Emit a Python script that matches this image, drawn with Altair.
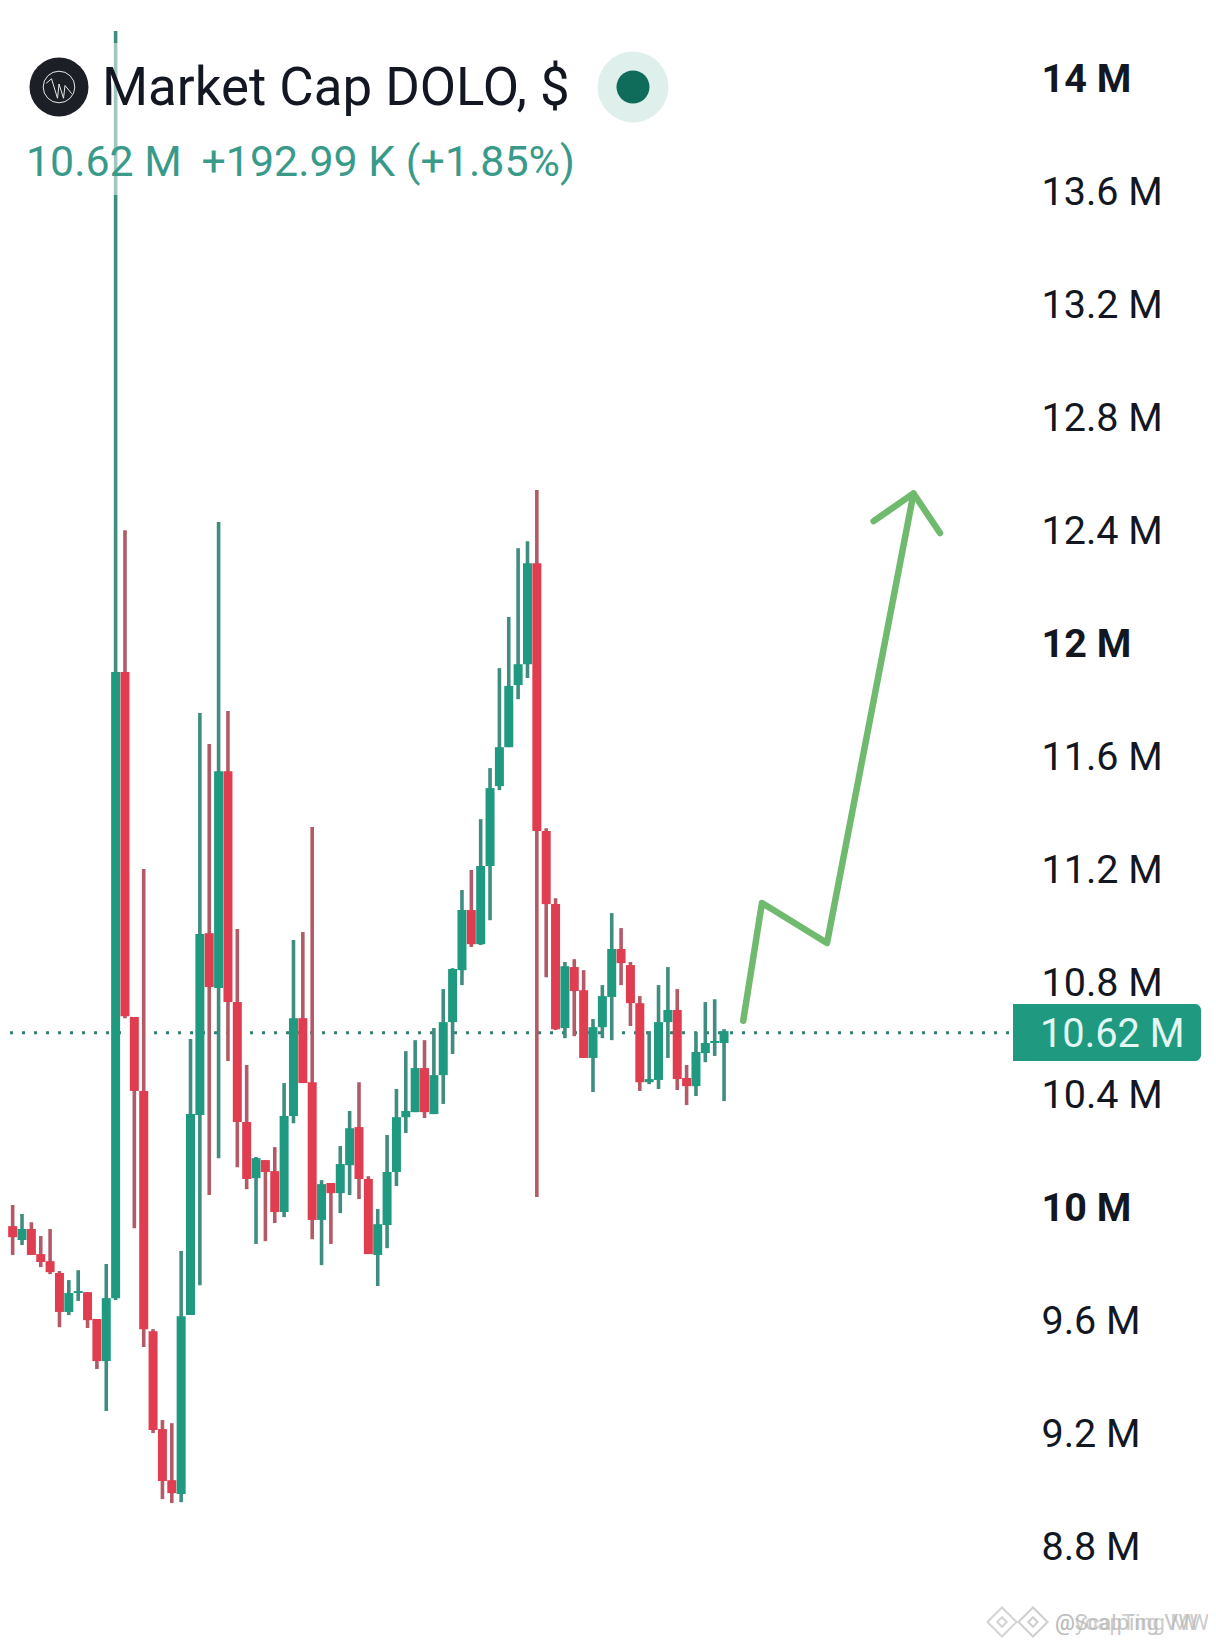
import altair as alt
import pandas as pd

# Candles, in millions: body top/bottom and wick top/bottom
direction = [
 "d","d","u","d","d","d","d","u","u","d","d","u",
 "u","d","d","d","d","d","d","u","u","u","d","u",
 "d","d","d","u","d","d","u","u","d","d","u","d",
 "u","u","d","d","u","u","u","u","u","d","u","u",
 "u","u","d","u","u","u","u","u","u","d","d","d",
 "u","d","d","u","u","u","d","d","d","u","u","u",
 "d","d","u","u","u","u",
]
body_top = [
 10.038,9.935,9.925,9.925,9.836,9.811,9.769,9.698,9.705,9.701,9.606,9.680,
 11.898,11.898,10.676,10.414,9.563,9.216,9.035,9.616,10.332,10.970,10.973,11.547,
 11.547,10.729,10.304,10.176,10.169,10.130,10.325,10.672,10.672,10.445,10.084,10.088,
 10.155,10.282,10.286,10.102,9.942,10.127,10.321,10.343,10.495,10.495,10.470,10.658,
 10.846,11.055,11.055,11.211,11.487,11.632,11.849,11.926,12.284,12.284,11.335,11.076,
 10.856,10.853,10.771,10.640,10.750,10.917,10.917,10.860,10.725,10.456,10.658,10.701,
 10.701,10.460,10.552,10.584,10.591,10.626,
]
body_bottom = [
 9.932,9.896,9.886,9.833,9.808,9.772,9.631,9.631,9.698,9.602,9.457,9.457,
 9.680,10.679,10.414,9.570,9.213,9.032,8.989,8.986,9.620,10.329,10.782,10.779,
 10.729,10.304,10.102,10.105,10.127,9.985,9.985,10.325,10.442,9.957,9.957,10.052,
 10.052,10.151,10.102,9.836,9.833,9.939,10.127,10.321,10.339,10.339,10.332,10.470,
 10.658,10.842,10.934,10.934,11.211,11.494,11.632,11.852,11.926,11.335,11.076,10.633,
 10.637,10.768,10.531,10.531,10.640,10.747,10.867,10.725,10.445,10.445,10.453,10.658,
 10.456,10.431,10.431,10.548,10.584,10.584,
]
wick_top = [
 10.084,10.010,9.978,9.949,9.900,9.925,9.776,9.744,9.779,9.701,9.606,9.801,
 14.169,12.401,10.676,11.200,9.570,9.248,9.237,9.847,10.598,11.753,11.643,12.430,
 11.760,10.988,10.506,10.180,10.169,10.215,10.442,10.949,10.977,11.349,10.098,10.088,
 10.219,10.343,10.445,10.112,9.996,10.258,10.421,10.555,10.594,10.594,10.637,10.775,
 10.849,11.126,11.197,11.377,11.558,11.912,12.093,12.337,12.362,12.543,11.345,11.097,
 10.871,10.881,10.842,10.669,10.789,11.044,10.991,10.871,10.750,10.626,10.789,10.853,
 10.775,10.506,10.623,10.729,10.739,10.633,
]
wick_bottom = [
 9.903,9.833,9.868,9.833,9.790,9.765,9.577,9.620,9.670,9.574,9.429,9.280,
 9.673,10.672,9.928,9.507,9.202,8.968,8.954,8.957,9.620,9.726,10.045,10.176,
 10.520,10.144,10.066,9.872,9.882,9.946,9.967,10.300,10.442,9.889,9.797,9.872,
 9.981,10.045,10.031,9.836,9.723,9.857,10.077,10.265,10.339,10.318,10.332,10.368,
 10.545,10.789,10.924,10.931,11.019,11.480,11.632,11.802,11.877,10.038,10.817,10.630,
 10.601,10.608,10.531,10.410,10.601,10.594,10.789,10.644,10.414,10.438,10.421,10.531,
 10.417,10.364,10.396,10.516,10.538,10.378,
]
bar_index = list(range(len(body_top)))

tick_values = [14, 13.6, 13.2, 12.8, 12.4, 12, 11.6, 11.2, 10.8, 10.4, 10, 9.6, 9.2, 8.8]
last_price = 10.62

arrow_x = [79.05, 81.05, 88.0, 97.24]
arrow_y = [10.663, 11.080, 10.938, 12.531]
head_x = [92.98, 97.24, 100.07]
head_y = [12.433, 12.531, 12.391]

FONT = "Roboto"
INK = "#131722"
UP = "#1f9a80"
DOWN = "#e03e50"
UP_WICK = "#3f8d80"
DOWN_WICK = "#b35a66"
TEAL = "#3a9a8a"

xs = alt.Scale(domain=[0.502, 107.87], nice=False, zero=False, padding=0)
ys = alt.Scale(domain=[8.4723, 14.2509], nice=False, zero=False)

df = pd.DataFrame({
    "i": bar_index, "dir": direction,
    "bt": body_top, "bb": body_bottom, "wt": wick_top, "wb": wick_bottom,
})
df["wc"] = df["dir"].map({"u": UP_WICK, "d": DOWN_WICK})
df["bc"] = df["dir"].map({"u": UP, "d": DOWN})

X = alt.X("i:Q", scale=xs, axis=None)

axis = alt.Axis(
    orient="right", values=tick_values, grid=False, domain=False, ticks=False, title=None,
    labelFont=FONT, labelFontSize=39.5, labelColor=INK, labelAlign="left", labelPadding=28,
    labelFlush=False, labelBound=False, labelOverlap=False, labelOffset=1,
    labelExpr="format(datum.value, '.1~f') + ' M'",
    labelFontWeight=alt.expr("datum.value % 2 == 0 ? 'bold' : 'normal'"),
)

price_df = pd.DataFrame({"p": [last_price]})
price_line = alt.Chart(price_df).mark_rule(
    color="#2f7f74", strokeWidth=3, strokeDash=[3, 9], strokeDashOffset=8
).encode(y=alt.Y("p:Q", scale=ys, axis=axis))

wicks = alt.Chart(df).mark_rule(strokeWidth=3.6).encode(
    x=X, y=alt.Y("wt:Q", scale=ys), y2="wb:Q",
    color=alt.Color("wc:N", scale=None),
)
bodies = alt.Chart(df).mark_bar(size=9).encode(
    x=X, y=alt.Y("bt:Q", scale=ys), y2="bb:Q",
    color=alt.Color("bc:N", scale=None),
)

arrow_style = dict(color="#6fba6f", strokeWidth=6.5, strokeCap="round", strokeJoin="round")
arrow_df = pd.DataFrame({"x": arrow_x, "y": arrow_y, "o": range(len(arrow_x))})
head_df = pd.DataFrame({"x": head_x, "y": head_y, "o": range(len(head_x))})
arrow = alt.Chart(arrow_df).mark_line(**arrow_style).encode(
    x=alt.X("x:Q", scale=xs, axis=None), y=alt.Y("y:Q", scale=ys), order="o:Q")
head = alt.Chart(head_df).mark_line(**arrow_style).encode(
    x=alt.X("x:Q", scale=xs, axis=None), y=alt.Y("y:Q", scale=ys), order="o:Q")

blank = alt.Data(values=[{}])

def text(s, x, y, size, color, **kw):
    kw.setdefault("baseline", "alphabetic")
    return alt.Chart(blank).mark_text(
        text=s, font=FONT, fontSize=size, color=color, align="left", **kw
    ).encode(x=alt.value(x), y=alt.value(y))

def dot(x, y, size, **kw):
    return alt.Chart(blank).mark_point(size=size, **kw).encode(x=alt.value(x), y=alt.value(y))

veil = alt.Chart(blank).mark_rect(color="white", opacity=0.5).encode(
    x=alt.value(0), x2=alt.value(680), y=alt.value(35), y2=alt.value(187))

tag = alt.Chart(blank).mark_rect(
    color=UP, cornerRadiusTopRight=6, cornerRadiusBottomRight=6
).encode(x=alt.value(1005), x2=alt.value(1193), y=alt.value(996), y2=alt.value(1053))

LOGO_PATH = "M-0.85,-0.25 L-0.5,-0.55 L-0.1,0.75 L0.0,-0.2 L0.3,0.75 L0.4,-0.1 L0.85,0.45"

layers = [
    price_line, wicks, bodies, arrow, head, veil,
    dot(51, 79, 3480, filled=True, color="#1c1f26", opacity=1, shape="circle"),
    dot(51, 79, 1000, filled=False, color="#e8e8e8", opacity=1, shape="circle", strokeWidth=1),
    dot(51, 79, 900, filled=False, color="#e8e8e8", opacity=1, shape=LOGO_PATH, strokeWidth=1),
    dot(625, 79, 5040, filled=True, color="#dff0ec", opacity=1, shape="circle"),
    dot(625, 79, 1090, filled=True, color="#0f6b5a", opacity=1, shape="circle"),
    text("Market Cap DOLO, $", 94, 97, 52.8, INK),
    text("10.62 M", 18, 168, 42.9, TEAL),
    text("+192.99 K (+1.85%)", 193.5, 168, 42.9, TEAL),
    tag,
    text("10.62 M", 1032, 1038.5, 39.8, "#e2f7f3"),
    dot(994, 1614, 850, filled=False, color="#d4d4d4", opacity=1, shape="diamond", strokeWidth=2),
    dot(994, 1614, 90, filled=False, color="#d4d4d4", opacity=1, shape="diamond", strokeWidth=2),
    dot(1025, 1614, 850, filled=False, color="#cfcfcf", opacity=1, shape="diamond", strokeWidth=2),
    dot(1025, 1614, 90, filled=False, color="#cfcfcf", opacity=1, shape="diamond", strokeWidth=2),
    text("@Scalping VW", 1047, 1622, 22, "#b8b8b8", opacity=0.8),
    text("@yoapTing MW", 1047, 1622, 22, "#b8b8b8", opacity=0.7),
]

chart = alt.layer(*layers).properties(
    width=1005, height=1631,
    autosize=alt.AutoSizeParams(type="none"),
    padding={"left": 0, "top": 0, "right": 195, "bottom": 0},
).configure_view(stroke=None)

chart.save("out.html", embed_options={"renderer": "svg", "actions": False})
